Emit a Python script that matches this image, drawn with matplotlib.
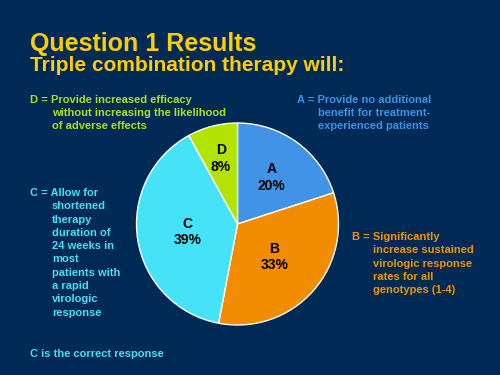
import matplotlib
matplotlib.use('Agg')
import matplotlib.pyplot as plt
import numpy as np

plt.rcParams['font.family'] = ['Liberation Sans', 'DejaVu Sans']

# chart data
answers = ['A', 'B', 'C', 'D']
shares = [20, 33, 39, 8]
slice_colors = ['#4193e8', '#f28c00', '#46e2f7', '#b3e300']
label_dist = [0.57, 0.49, 0.50, 0.67]

title = 'Question 1 Results'
subtitle = 'Triple combination therapy will:'

# answer texts: first line carries the "X =" prefix, the rest are indented
text_a = ['A = Provide no additional', 'benefit for treatment-', 'experienced patients']
text_b = ['B = Significantly', 'increase sustained', 'virologic response',
          'rates for all', 'genotypes (1-4)']
text_c = ['C = Allow for', 'shortened', 'therapy', 'duration of', '24 weeks in',
          'most', 'patients with', 'a rapid', 'virologic', 'response']
text_d = ['D = Provide increased efficacy', 'without increasing the likelihood',
          'of adverse effects']
footer = 'C is the correct response'

bg = '#002a56'
W, H = 500, 375

fig = plt.figure(figsize=(5, 3.75), dpi=100, facecolor=bg)

def px(x, y):
    return x / W, 1 - y / H

def block(lines, x0, x1, y0, step, color):
    for i, line in enumerate(lines):
        x = x0 if i == 0 else x1
        fig.text(*px(x, y0 + i * step), line, color=color, fontsize=8,
                 fontweight='bold', va='center', ha='left')

# titles
fig.text(*px(30, 51), title, color='#ffcc00', fontsize=18, fontweight='bold', va='baseline')
fig.text(*px(30, 71), subtitle, color='#ffcc00', fontsize=15, fontweight='bold', va='baseline')

# pie
cx, cy, r = 237.5, 224, 102
ax = fig.add_axes([(cx - r) / W, (H - cy - r) / H, 2 * r / W, 2 * r / H])
ax.set_facecolor(bg)
wedges, _ = ax.pie(shares, colors=slice_colors, startangle=90, counterclock=False,
                   wedgeprops=dict(edgecolor='white', linewidth=1.0))
ax.set_xlim(-1.01, 1.01)
ax.set_ylim(-1.01, 1.01)
ax.set_aspect('equal')
ax.axis('off')

for w, name, val, d in zip(wedges, answers, shares, label_dist):
    mid = np.deg2rad((w.theta1 + w.theta2) / 2)
    ax.text(d * np.cos(mid), d * np.sin(mid), f'{name}\n{val}%', ha='center', va='center',
            fontsize=10, fontweight='bold', color='black', linespacing=1.2)

# answer descriptions
block(text_d, 30, 52, 100, 13.2, '#a9e11a')
block(text_a, 297, 318, 100, 13.2, '#3e90ea')
block(text_c, 30, 52, 193, 13.3, '#46def2')
block(text_b, 352, 373, 237, 13.3, '#f29200')
fig.text(*px(30, 354), footer, color='#46def2', fontsize=8, fontweight='bold', va='center')

fig.savefig('out.png', dpi=100, facecolor=bg)
